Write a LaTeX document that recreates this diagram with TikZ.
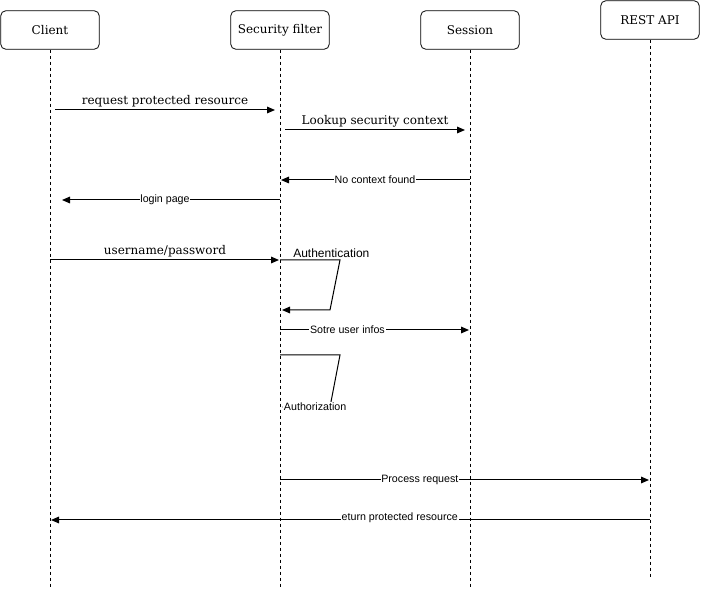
\documentclass[tikz,border=0pt]{standalone}
\usepackage{fontspec}
\setmainfont{DejaVu Serif}
\newfontfamily\tagfont{Liberation Sans}
\usetikzlibrary{arrows.meta}

\begin{document}
\begin{tikzpicture}[x=0.75pt, y=-0.75pt,
        actor/.style={draw, rounded corners=4pt, line width=0.6pt, minimum width=74pt, minimum height=29pt, inner sep=0pt, font=\fontsize{9}{11}\selectfont},
        life/.style={line width=0.6pt, dash pattern=on 2.25pt off 2.25pt},
        msg/.style={line width=0.75pt, -{Triangle[length=6pt,width=5pt]}},
        said/.style={above, inner sep=2pt, font=\fontsize{9}{11}\selectfont},
        tag/.style={fill=white, inner sep=0.6pt, font=\tagfont\fontsize{8}{9}\selectfont}]
    \useasboundingbox (0,0) rectangle (701,591);
    % participants
    \node[actor] (client) at (50,30) {Client};
    \node[actor] (filter) at (280,30) {Security filter};
    \node[actor] (session) at (470,30) {Session};
    \node[actor] (api) at (650,20) {REST API};
    \coordinate (client-end) at (50,588);
    \coordinate (filter-end) at (280,588);
    \coordinate (session-end) at (470,588);
    \coordinate (api-end) at (650,578);
    \draw[life] (client) -- (client-end);
    \draw[life] (filter) -- (filter-end);
    \draw[life] (session) -- (session-end);
    \draw[life] (api) -- (api-end);
    % message rows
    \coordinate (r1) at (0,110);
    \coordinate (r2) at (0,130);
    \coordinate (r3) at (0,180);
    \coordinate (r4) at (0,200);
    \coordinate (r5) at (0,260);
    \coordinate (r6) at (0,330);
    \coordinate (r7) at (0,355);
    \coordinate (r8) at (0,480);
    \coordinate (r9) at (0,520);
    % messages
    \draw[msg, shorten <=3.75pt, shorten >=3.75pt] (client |- r1) -- (filter |- r1) node[said, midway] {request protected resource};
    \draw[msg, shorten <=3.75pt, shorten >=3.75pt] (filter |- r2) -- (session |- r2) node[said, midway] {Lookup security context};
    \draw[msg, shorten >=0.75pt] (session |- r3) -- (filter |- r3) node[tag, midway] {No context found};
    \draw[msg, shorten >=9pt] (filter |- r4) -- (client |- r4) node[tag, midway] {login page};
    \draw[msg, shorten >=0.75pt] (client |- r5) -- (filter |- r5) node[said, midway] {username/password};
    \draw[msg] (filter |- r5) node[tag, fill=none, anchor=south west, xshift=9pt, yshift=1pt, font=\tagfont\fontsize{9}{10}\selectfont] {Authentication}
        -- ++(60,0) -- ++(-10,50) -- ++(-48,0);
    \draw[msg, shorten >=0.75pt] (filter |- r6) -- (session |- r6) node[tag, pos=0.355] {Sotre user infos};
    \draw[msg] (filter |- r7) -- ++(60,0) -- ++(-10,52) -- ++(-48,0) node[tag, pos=0.31] {Authorization};
    \draw[msg, shorten >=0.75pt] (filter |- r8) -- (api |- r8) node[tag, pos=0.378] {Process request};
    \draw[msg, shorten >=0.75pt] (api |- r9) -- (client |- r9) node[tag, pos=0.417, yshift=2pt] {eturn protected resource};
\end{tikzpicture}
\end{document}
